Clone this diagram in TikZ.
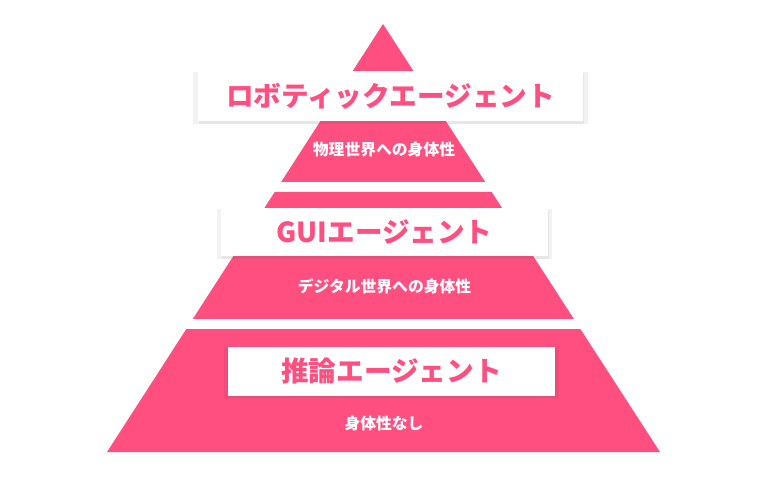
\documentclass[tikz,border=0pt]{standalone}
\usepackage{fontspec}
\setmainfont{Noto Sans CJK JP}
\usetikzlibrary{calc,shadows}
\definecolor{agentpink}{HTML}{FF4F81}
\begin{document}
\begin{tikzpicture}[
		x=1pt,y=-1pt,
		band/.style = {fill=agentpink, draw=none},
		title/.style = {fill=white, text=agentpink, font=\bfseries\fontsize{27.6}{30}\selectfont,
			inner sep=0pt,
			general shadow={fill=black, opacity=.05, shadow scale=1.025, shadow yshift=-2pt},
			drop shadow={opacity=.10, shadow xshift=1pt, shadow yshift=-3pt}},
		embody/.style = {text=white, font=\bfseries\fontsize{15.8}{18}\selectfont, inner sep=0pt}
	]
	\useasboundingbox (0,0) rectangle (783,488);
	\coordinate (top) at (383,24);
	\coordinate (bl) at (107,452);
	\coordinate (br) at (660,452);
	
	% three bands of the pyramid
	\fill [band] (top) -- ($(top)!.369!(br)$) -- ($(top)!.369!(bl)$) -- cycle;
	\fill [band] ($(top)!.3925!(bl)$) -- ($(top)!.3925!(br)$) -- ($(top)!.689!(br)$) -- ($(top)!.689!(bl)$) -- cycle;
	\fill [band] ($(top)!.7126!(bl)$) -- ($(top)!.7126!(br)$) -- (br) -- (bl) -- cycle;
	
	\node (robot) [title, minimum width=385, minimum height=50] at (390.5,96) {ロボティックエージェント};
	\node (phys) [embody] at (384,150) {物理世界への身体性};
	\node (gui) [title, minimum width=327, minimum height=48] at (384.5,232) {GUIエージェント};
	\node (digi) [embody] at (384.5,286) {デジタル世界への身体性};
	\node (reason) [title, minimum width=327, minimum height=49] at (391.5,371) {推論エージェント};
	\node (none) [embody] at (384,423) {身体性なし};
\end{tikzpicture}
\end{document}
